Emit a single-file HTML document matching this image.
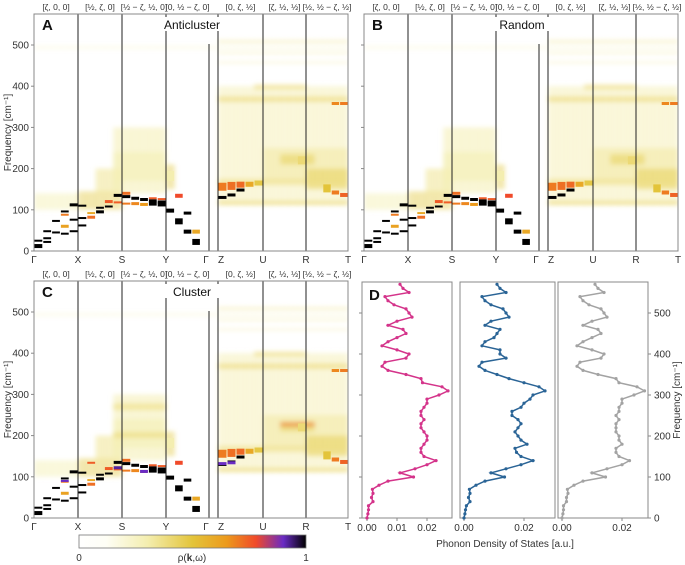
<!DOCTYPE html>
<html><head><meta charset="utf-8">
<style>
html,body{margin:0;padding:0;background:#fff;}
svg{display:block;font-family:"Liberation Sans",sans-serif;}
</style></head>
<body>
<svg id="fig" width="685" height="565" viewBox="0 0 685 565" xmlns="http://www.w3.org/2000/svg">
<defs>
<linearGradient id="cbar" x1="0" x2="1" y1="0" y2="0">
<stop offset="0" stop-color="#ffffff"/>
<stop offset="0.12" stop-color="#fefef5"/>
<stop offset="0.3" stop-color="#f4eeb0"/>
<stop offset="0.5" stop-color="#e3c43a"/>
<stop offset="0.65" stop-color="#ec9a1c"/>
<stop offset="0.78" stop-color="#f04a2a"/>
<stop offset="0.9" stop-color="#6a2cc4"/>
<stop offset="1" stop-color="#000000"/>
</linearGradient>
<filter id="blur" x="-10%" y="-10%" width="120%" height="120%"><feGaussianBlur stdDeviation="2.5"/></filter>
</defs>
<g id="panels"></g>
<g id="dos"></g>
<g>
<rect x="79" y="535" width="227" height="13" fill="url(#cbar)" stroke="#777" stroke-width="0.8"/>
<text x="79" y="561" font-size="10" fill="#333" text-anchor="middle">0</text>
<text x="306" y="561" font-size="10" fill="#333" text-anchor="middle">1</text>
<text x="192" y="561" font-size="10" fill="#333" text-anchor="middle">ρ(<tspan font-weight="bold">k</tspan>,ω)</text>
</g>
</svg>
<script>
// ---------- heatmap data ----------
const symLabels = ["Γ","X","S","Y","Γ","Z","U","R","T"];
const pathLabels = ["[ζ, 0, 0]","[½, ζ, 0]","[½ − ζ, ½, 0]","[0, ½ − ζ, 0]","[0, ζ, ½]","[ζ, ½, ½]","[½, ½ − ζ, ½]"];
const freqTicks = [0,100,200,300,400,500];
// sharp branches: [column, frequency, intensity, thickness]
const sharpA = [
[0,12,1,4],[0,25,1,2],[1,22,1,2],[1,31,1,2],[1,48,1,2],[2,45,1,2],[2,73,1,2],
[3,42,1,2],[3,60,0.62,3],[3,88,0.7,2],[3,96,1,2],[4,48,1,2],[4,76,1,2],[4,112,1,3],
[5,62,1,2],[5,80,1,2],[5,110,1,2],[6,82,0.72,3],[6,92,0.6,2],[7,95,1,3],[7,105,1,2],
[8,108,1,2],[8,120,0.75,3],[9,118,0.75,2],[9,135,1,3],[10,115,0.7,2],[10,132,1,3],[10,140,0.72,3],
[11,115,0.68,3],[11,128,1,3],[12,113,0.65,3],[12,125,1,3],[13,115,1,4],[13,122,1,3],[13,128,0.75,2],
[14,113,1,4],[14,119,1,3],[14,126,0.75,2],[15,98,1,4],[15,182,0.3,10],[16,72,1,6],[16,134,0.78,4],
[17,47,1,4],[17,92,1,3],[18,22,1,6],[18,47,0.6,4],
[21,130,1,3],[21,156,0.7,8],[22,136,1,3],[22,158,0.72,8],[23,148,1,3],[23,161,0.73,6],[24,162,0.6,5],[25,165,0.48,5],
[30,220,0.4,8],[33,152,0.5,8],[34,142,0.7,4],[35,136,0.74,4],[34,358,0.68,3],[35,358,0.7,3]
];
// diffuse patches: [colStart, colEnd, fLow, fHigh, intensity]
const diffuseA = [
[0,4,100,140,0.05],[5,9,100,145,0.18],[7,9,140,200,0.12],[9,14,140,300,0.08],[9,14,170,240,0.08],
[15,15,150,210,0.18],[21,35,110,400,0.06],[21,35,362,375,0.18],[25,30,392,404,0.16],[21,35,112,122,0.18],
[26,35,170,250,0.1],[28,31,210,235,0.2],[31,35,150,200,0.2],[21,35,160,175,0.15],
[0,35,492,496,0.05],[21,35,505,512,0.1],[21,35,455,460,0.06],[21,35,478,484,0.06]
];
const diffuseC = [[9,14,262,278,0.16],[9,14,195,208,0.18],[28,31,222,232,0.45]];
const sharpC = [[3,90,0.9,2],[6,134,0.75,2],[9,122,0.92,3],[12,113,0.9,3],[21,132,0.9,3],[22,134,0.9,3]];

const cmapStops=[[0,[255,255,255]],[0.12,[254,254,245]],[0.3,[244,238,176]],[0.5,[227,196,58]],[0.65,[236,154,28]],[0.78,[240,74,42]],[0.9,[106,44,196]],[1,[0,0,0]]];
function cmap(v){v=Math.max(0,Math.min(1,v));for(let i=1;i<cmapStops.length;i++){if(v<=cmapStops[i][0]){const a=cmapStops[i-1],b=cmapStops[i];const t=(v-a[0])/(b[0]-a[0]);const c=a[1].map((x,k)=>Math.round(x+(b[1][k]-x)*t));return `rgb(${c[0]},${c[1]},${c[2]})`;}}return "#000";}

const NS="http://www.w3.org/2000/svg";
function mk(tag,attrs,parent){const e=document.createElementNS(NS,tag);for(const k in attrs)e.setAttribute(k,attrs[k]);parent.appendChild(e);return e;}

const symRel=[0,44,88,132,175,184,229,272,314];
const colsPerSeg=[5,5,5,5,1,5,5,5];
function colRange(col){let c=col;for(let s=0;s<8;s++){if(c<colsPerSeg[s]){const w=(symRel[s+1]-symRel[s])/colsPerSeg[s];return [symRel[s]+c*w,w];}c-=colsPerSeg[s];}return [0,0];}

function drawPanel(p){
  const g=mk("g",{},document.getElementById("panels"));
  
  
  const L=p.x0,B=p.y0,T=p.y0-237,W=314;
  const yf=f=>B-f*206/500;
  const xc=v=>L+v;
  mk("rect",{x:L,y:T,width:W,height:237,fill:"#fff"},g);
  const clipId="clip"+p.letter;
  const cp=mk("clipPath",{id:clipId},g);mk("rect",{x:L,y:T,width:W,height:237},cp);
  const hmWrap=mk("g",{"clip-path":`url(#${clipId})`},g);
  const hm=mk("g",{filter:"url(#blur)"},hmWrap);
  
  
  p.diffuse.forEach(d=>{
    for(let c=d[0];c<=d[1];c++){const [cx,cw]=colRange(c);
      const r=mk("rect",{x:xc(cx),y:yf(d[3]),width:cw+0.3,height:yf(d[2])-yf(d[3]),fill:cmap(0.2+d[4]*1.2),opacity:0.55},hm);
      
      
    }
  });
  const hs=mk("g",{},hmWrap);
  p.sharp.forEach(s=>{const [cx,cw]=colRange(s[0]);
    const r=mk("rect",{x:xc(cx)+0.5,y:yf(s[1])-s[3]/2,width:cw-1,height:s[3],fill:cmap(s[2])},hs);
    
    
  });
  symRel.forEach((v,i)=>{if(i>0&&i<8){const ln=mk("line",{x1:xc(v),x2:xc(v),y1:(i==4?T+30:T),y2:B,stroke:"#222","stroke-width":1},g);
    
    }});
  mk("rect",{x:L,y:T,width:W,height:237,fill:"none",stroke:"#888","stroke-width":1},g);
  symLabels.forEach((s,i)=>{const t=mk("text",{x:xc(symRel[i])+(i==4?-3:(i==5?3:0)),y:B+12,"font-size":10,fill:"#333","text-anchor":"middle"},g);t.textContent=s;
    
    });
  const segIdx=[0,1,2,3,5,6,7];
  pathLabels.forEach((s,i)=>{const a=symRel[segIdx[i]],b=symRel[segIdx[i]+1];const t=mk("text",{x:xc((a+b)/2),y:T-4,"font-size":8.5,fill:"#333","text-anchor":"middle"},g);t.textContent=s;
    
    });
  freqTicks.forEach(f=>{mk("line",{x1:L-3,x2:L,y1:yf(f),y2:yf(f),stroke:"#888"},g);
    if(p.ylabels){const t=mk("text",{x:L-5,y:yf(f)+3.5,"font-size":10,fill:"#333","text-anchor":"end"},g);t.textContent=f;
      
      }});
  if(p.ylabels){const t=mk("text",{transform:`translate(11,${(T+B)/2}) rotate(-90)`,"font-size":10,fill:"#333","text-anchor":"middle"},g);t.textContent="Frequency [cm⁻¹]";
    }
  const lt=mk("text",{x:L+8,y:T+16,"font-size":15,"font-weight":"bold",fill:"#111"},g);lt.textContent=p.letter;
  
  mk("rect",{x:L+p.titleX-34,y:T+3,width:68,height:14,fill:"#fff"},g);
  const tt=mk("text",{x:L+p.titleX,y:T+15,"font-size":12,fill:"#111","text-anchor":"middle"},g);tt.textContent=p.title;
  
}
drawPanel({name:"panel-a-anticluster",x0:34,y0:251,sharp:sharpA,diffuse:diffuseA,ylabels:true,letter:"A",title:"Anticluster",titleX:158});
drawPanel({name:"panel-b-random",x0:364,y0:251,sharp:sharpA,diffuse:diffuseA,ylabels:false,letter:"B",title:"Random",titleX:158});
drawPanel({name:"panel-c-cluster",x0:34,y0:518,sharp:sharpA.concat(sharpC),diffuse:diffuseA.concat(diffuseC),ylabels:true,letter:"C",title:"Cluster",titleX:158});
</script>
<script>
// ---------- DOS data ----------
const dosFreq=[0,10,20,30,40,50,60,70,80,90,100,110,120,130,140,150,160,170,180,190,200,210,220,230,240,250,260,270,280,290,300,310,320,330,340,350,360,370,380,390,400,410,420,430,440,450,460,470,480,490,500,510,520,530,540,550,560,570];
const dosAnti=[0.0,0.0003,0.0005,0.0005,0.002,0.0015,0.002,0.0018,0.004,0.007,0.0155,0.011,0.016,0.02,0.023,0.019,0.018,0.018,0.019,0.02,0.02,0.019,0.018,0.018,0.019,0.018,0.018,0.019,0.02,0.02,0.024,0.027,0.025,0.0185,0.018,0.013,0.007,0.005,0.006,0.013,0.014,0.01,0.005,0.007,0.01,0.013,0.012,0.007,0.01,0.015,0.014,0.013,0.009,0.007,0.006,0.014,0.012,0.011];
const dosRandom=[0.0,0.0003,0.0005,0.0008,0.002,0.0015,0.002,0.0018,0.004,0.007,0.0135,0.009,0.014,0.019,0.023,0.019,0.0175,0.017,0.021,0.019,0.018,0.017,0.018,0.019,0.018,0.016,0.016,0.019,0.02,0.022,0.023,0.027,0.025,0.02,0.015,0.011,0.007,0.005,0.006,0.014,0.012,0.012,0.006,0.007,0.01,0.011,0.012,0.007,0.009,0.015,0.014,0.013,0.009,0.007,0.006,0.014,0.012,0.011];
const dosCluster=[0.0,0.0003,0.0005,0.0005,0.0015,0.0015,0.002,0.0018,0.004,0.007,0.0145,0.01,0.015,0.02,0.0225,0.019,0.018,0.018,0.02,0.019,0.019,0.018,0.018,0.018,0.019,0.018,0.019,0.019,0.02,0.02,0.024,0.0275,0.025,0.019,0.018,0.012,0.007,0.005,0.006,0.013,0.014,0.01,0.005,0.007,0.01,0.013,0.012,0.007,0.01,0.015,0.014,0.013,0.009,0.007,0.006,0.014,0.012,0.011];
const dosTicks=[0,0.01,0.02];
const dosSeries=[dosAnti,dosRandom,dosCluster];
const dosColors=["#d4338a","#2a6496","#a3a3a3"];
(function(){
  const NS="http://www.w3.org/2000/svg";
  function mk(tag,attrs,parent){const e=document.createElementNS(NS,tag);for(const k in attrs)e.setAttribute(k,attrs[k]);parent.appendChild(e);return e;}
  const root=document.getElementById("dos");
  const boxes=[[362,452,367],[460,555,464],[558,648,562]];
  const top=282,bot=518;
  const yf=f=>bot-f*205/500;
  const names=["dos-anticluster","dos-random","dos-cluster"];
  boxes.forEach((b,i)=>{
    const g=mk("g",{},root);
    
    
    mk("rect",{x:b[0],y:top,width:b[1]-b[0],height:bot-top,fill:"#fff",stroke:"#888","stroke-width":1},g);
    const xf=v=>b[2]+v*3000;
    (i==1||i==2?[0,0.02]:dosTicks).forEach(t=>{mk("line",{x1:xf(t),x2:xf(t),y1:bot,y2:bot+3,stroke:"#888"},g);
      const tx=mk("text",{x:xf(t),y:bot+13,"font-size":10,fill:"#333","text-anchor":"middle"},g);tx.textContent=t.toFixed(2);
      });
    [0,100,200,300,400,500].forEach(f=>{if(i==0)mk("line",{x1:b[0]-3,x2:b[0],y1:yf(f),y2:yf(f),stroke:"#888"},g);
      if(i==2){mk("line",{x1:b[1],x2:b[1]+3,y1:yf(f),y2:yf(f),stroke:"#888"},g);
        const tx=mk("text",{x:b[1]+6,y:yf(f)+3.5,"font-size":10,fill:"#333"},g);tx.textContent=f;
        }});
    const ser=dosSeries[i];
    const pts=dosFreq.map((f,k)=>xf(ser[k]).toFixed(1)+","+yf(f).toFixed(1)).join(" ");
    const pl=mk("polyline",{points:pts,fill:"none",stroke:dosColors[i],"stroke-width":1.5},g);
    
    dosFreq.forEach((f,k)=>{const c=mk("circle",{cx:xf(ser[k]),cy:yf(f),r:1.6,fill:dosColors[i]},g);
      });
  });
  const d=mk("text",{x:369,y:300,"font-size":15,"font-weight":"bold",fill:"#111"},root);d.textContent="D";
  
  const xt=mk("text",{x:505,y:547,"font-size":10,fill:"#333","text-anchor":"middle"},root);xt.textContent="Phonon Density of States [a.u.]";
  
  const yt=mk("text",{transform:`translate(680,${(top+bot)/2}) rotate(-90)`,"font-size":10,fill:"#333","text-anchor":"middle"},root);yt.textContent="Frequency [cm⁻¹]";
  
})();
</script>
</body></html>
